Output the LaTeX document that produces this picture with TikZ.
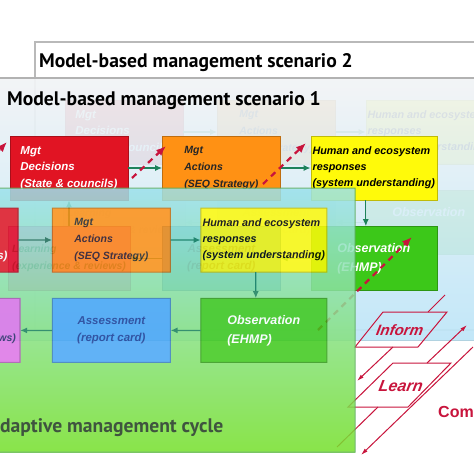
\documentclass[tikz,border=0pt]{standalone}
\usepackage{fontspec}
\setmainfont{Liberation Sans}
\newfontfamily\headfont{PT Sans}
\newfontfamily\commfont[FakeSlant=0.18]{Liberation Sans}
\usetikzlibrary{positioning}
\usetikzlibrary{arrows.meta}
\definecolor{decred}{RGB}{225,20,35}
\definecolor{actorange}{RGB}{255,145,20}
\definecolor{humyellow}{RGB}{255,250,10}
\definecolor{obsgreen}{RGB}{60,200,25}
\definecolor{assblue}{RGB}{70,165,245}
\definecolor{lrnpink}{RGB}{220,115,230}
\definecolor{asstext}{RGB}{25,60,150}
\definecolor{lrntext}{RGB}{40,40,100}
\definecolor{flowgreen}{RGB}{30,130,90}
\definecolor{commred}{RGB}{200,20,60}
\definecolor{sonetop}{RGB}{242,244,246}
\definecolor{sonebot}{RGB}{190,230,248}
\definecolor{amctop}{RGB}{156,226,237}
\definecolor{amcmid}{RGB}{137,229,175}
\definecolor{amcbot}{RGB}{117,224,42}
\definecolor{amcedge}{RGB}{90,170,90}
\definecolor{amctitle}{RGB}{30,55,30}
\tikzset{
  every edge/.append style={thick},
  flow/.style={-{Latex[length=7pt,width=6pt]},line width=1.3pt,draw=flowgreen},
  promote/.style={-{Latex[length=10pt,width=8pt]},line width=2.2pt,draw=commred,
    dash pattern=on 6pt off 5pt},
  commline/.style={line width=1pt,draw=commred},
  comm/.style={commline,-{Latex[length=7pt,width=4pt]}},
  stage/.style={rectangle,draw=#1!75!black,fill=#1,minimum width=118pt,
    minimum height=64pt,align=left,inner sep=0pt},
  txt/.style 2 args={font=\bfseries\itshape\fontsize{#1}{#2}\selectfont},
  heading/.style={anchor=base west,inner sep=0pt,
    font=\headfont\bfseries\fontsize{19.6}{20}\selectfont},
  commtxt/.style={text=commred,inner sep=0pt,
    font=\commfont\bfseries\itshape\fontsize{#1}{#1}\selectfont}
}
% one management cycle, node names start with #1
\newcommand\drawcycle[1]{%
  \node (#1dec) at (69,168) [stage=decred,text=white,txt={11.5}{16.5}]
    {Mgt\\Decisions\\(State \& councils)};
  \node (#1act) [stage=actorange,text=black!85,txt={10.5}{17},right=34pt of #1dec]
    {Mgt\\Actions\\(SEQ Strategy)};
  \node (#1hum) [stage=humyellow,text=black,txt={10.8}{16},minimum width=126pt,
    right=30pt of #1act] {Human and ecosystem\\responses\\(system understanding)};
  \node (#1obs) [stage=obsgreen,text=white,txt={12.5}{19},minimum width=126pt,
    below=26pt of #1hum] {Observation\\(EHMP)};
  \node (#1ass) [stage=assblue,text=asstext,txt={11.5}{17},align=center,
    below=26pt of #1act] {Assessment\\(report card)};
  \node (#1lrn) [stage=lrnpink,text=lrntext,txt={10.5}{17},minimum width=122pt,
    below=26pt of #1dec] {Learning\\(experience \& reviews)};
  \draw[flow] (#1dec) -- (#1act);
  \draw[flow] (#1act) -- (#1hum);
  \draw[flow] ([xshift=-8pt]#1hum.south) -- ([xshift=-8pt]#1obs.north);
  \draw[flow] (#1obs) -- (#1ass);
  \draw[flow] (#1ass) -- (#1lrn);
  \draw[flow] (#1lrn) -- (#1dec);
}

\begin{document}
\begin{tikzpicture}[x=1pt,y=-1pt]
  \useasboundingbox (0,0) rectangle (474,474);
  \clip (0,0) rectangle (474,474);
  \fill[white] (0,0) rectangle (474,474);

  % scenario 2
  \draw[gray!55,line width=1.2pt,fill=white] (35,42) rectangle (490,330);
  \node (title2) at (39,67) [heading] {Model-based management scenario 2};
  \begin{scope}[shift={(55,-36)}]
    \drawcycle{two}
  \end{scope}

  % scenario 1
  \shade[top color=sonetop,bottom color=sonebot,fill opacity=0.93] (-5,78) rectangle (480,340);
  \draw[sonebot!80!gray,line width=0.8pt] (0,340) -- (480,340);
  \draw[gray!60,line width=1.5pt] (0,78) -- (480,78);
  \node (title1) at (7,105) [heading] {Model-based management scenario 1};
  \drawcycle{one}
  \coordinate (p1a) at (-12,162);  \coordinate (p1b) at (7,142);
  \coordinate (p2a) at (132,178);  \coordinate (p2b) at (166,146);
  \coordinate (p3a) at (263,184);  \coordinate (p3b) at (306,143);
  \coordinate (p4a) at (318,330);  \coordinate (p4b) at (412,237);
  \draw[promote] (p1a) -- (p1b);
  \draw[promote] (p2a) -- (p2b);
  \draw[promote] (p3a) -- (p3b);
  \draw[promote] (p4a) -- (p4b);

  % inform / learn
  \coordinate (infTL) at (383,312); \coordinate (infTR) at (447,312);
  \coordinate (infBR) at (418,347); \coordinate (infBL) at (355,347);
  \coordinate (lrnTL) at (393,363); \coordinate (lrnTR) at (451,363);
  \coordinate (lrnBR) at (408,407); \coordinate (lrnBL) at (348,407);
  \draw[commline] (infTL) -- (infTR) -- (infBR) -- (infBL) -- cycle;
  \draw[commline] (lrnTL) -- (lrnTR) -- (lrnBR) -- (lrnBL) -- cycle;
  \node (inform) at (399,330) [commtxt=15] {Inform};
  \node (learn) at (400,386) [commtxt=16] {Learn};
  \coordinate (c1a) at (445,295); \coordinate (c1b) at (428,312);
  \coordinate (c1c) at (393,347); \coordinate (c1d) at (357,381);
  \coordinate (c2a) at (427,363); \coordinate (c2b) at (467,325);
  \coordinate (c3a) at (473,347); \coordinate (c3b) at (361,455);
  \coordinate (c4a) at (378,407); \coordinate (c4b) at (337,447);
  \draw[commline] (c1a) -- (c1b);
  \draw[comm] (c1c) -- (c1d);
  \draw[comm] (c2a) -- (c2b);
  \draw[comm] (c3a) -- (c3b);
  \draw[commline] (c4a) -- (c4b);
  \node (com) at (438,417) [anchor=base west,inner sep=0pt,text=commred,
    font=\bfseries\fontsize{16}{16}\selectfont] {Com};

  % adaptive management cycle
  \begin{scope}[transparency group,opacity=0.85]
    \shade[top color=amctop,middle color=amcmid,bottom color=amcbot] (0,188) rectangle (355,452);
    \draw[amcedge,line width=1pt] (-5,188) rectangle (355,452);
    \begin{scope}[shift={(-110,72)}]
      \drawcycle{amc}
    \end{scope}
    \node (title3) at (-12,432) [heading,text=amctitle] {Adaptive management cycle};
  \end{scope}
\end{tikzpicture}
\end{document}
